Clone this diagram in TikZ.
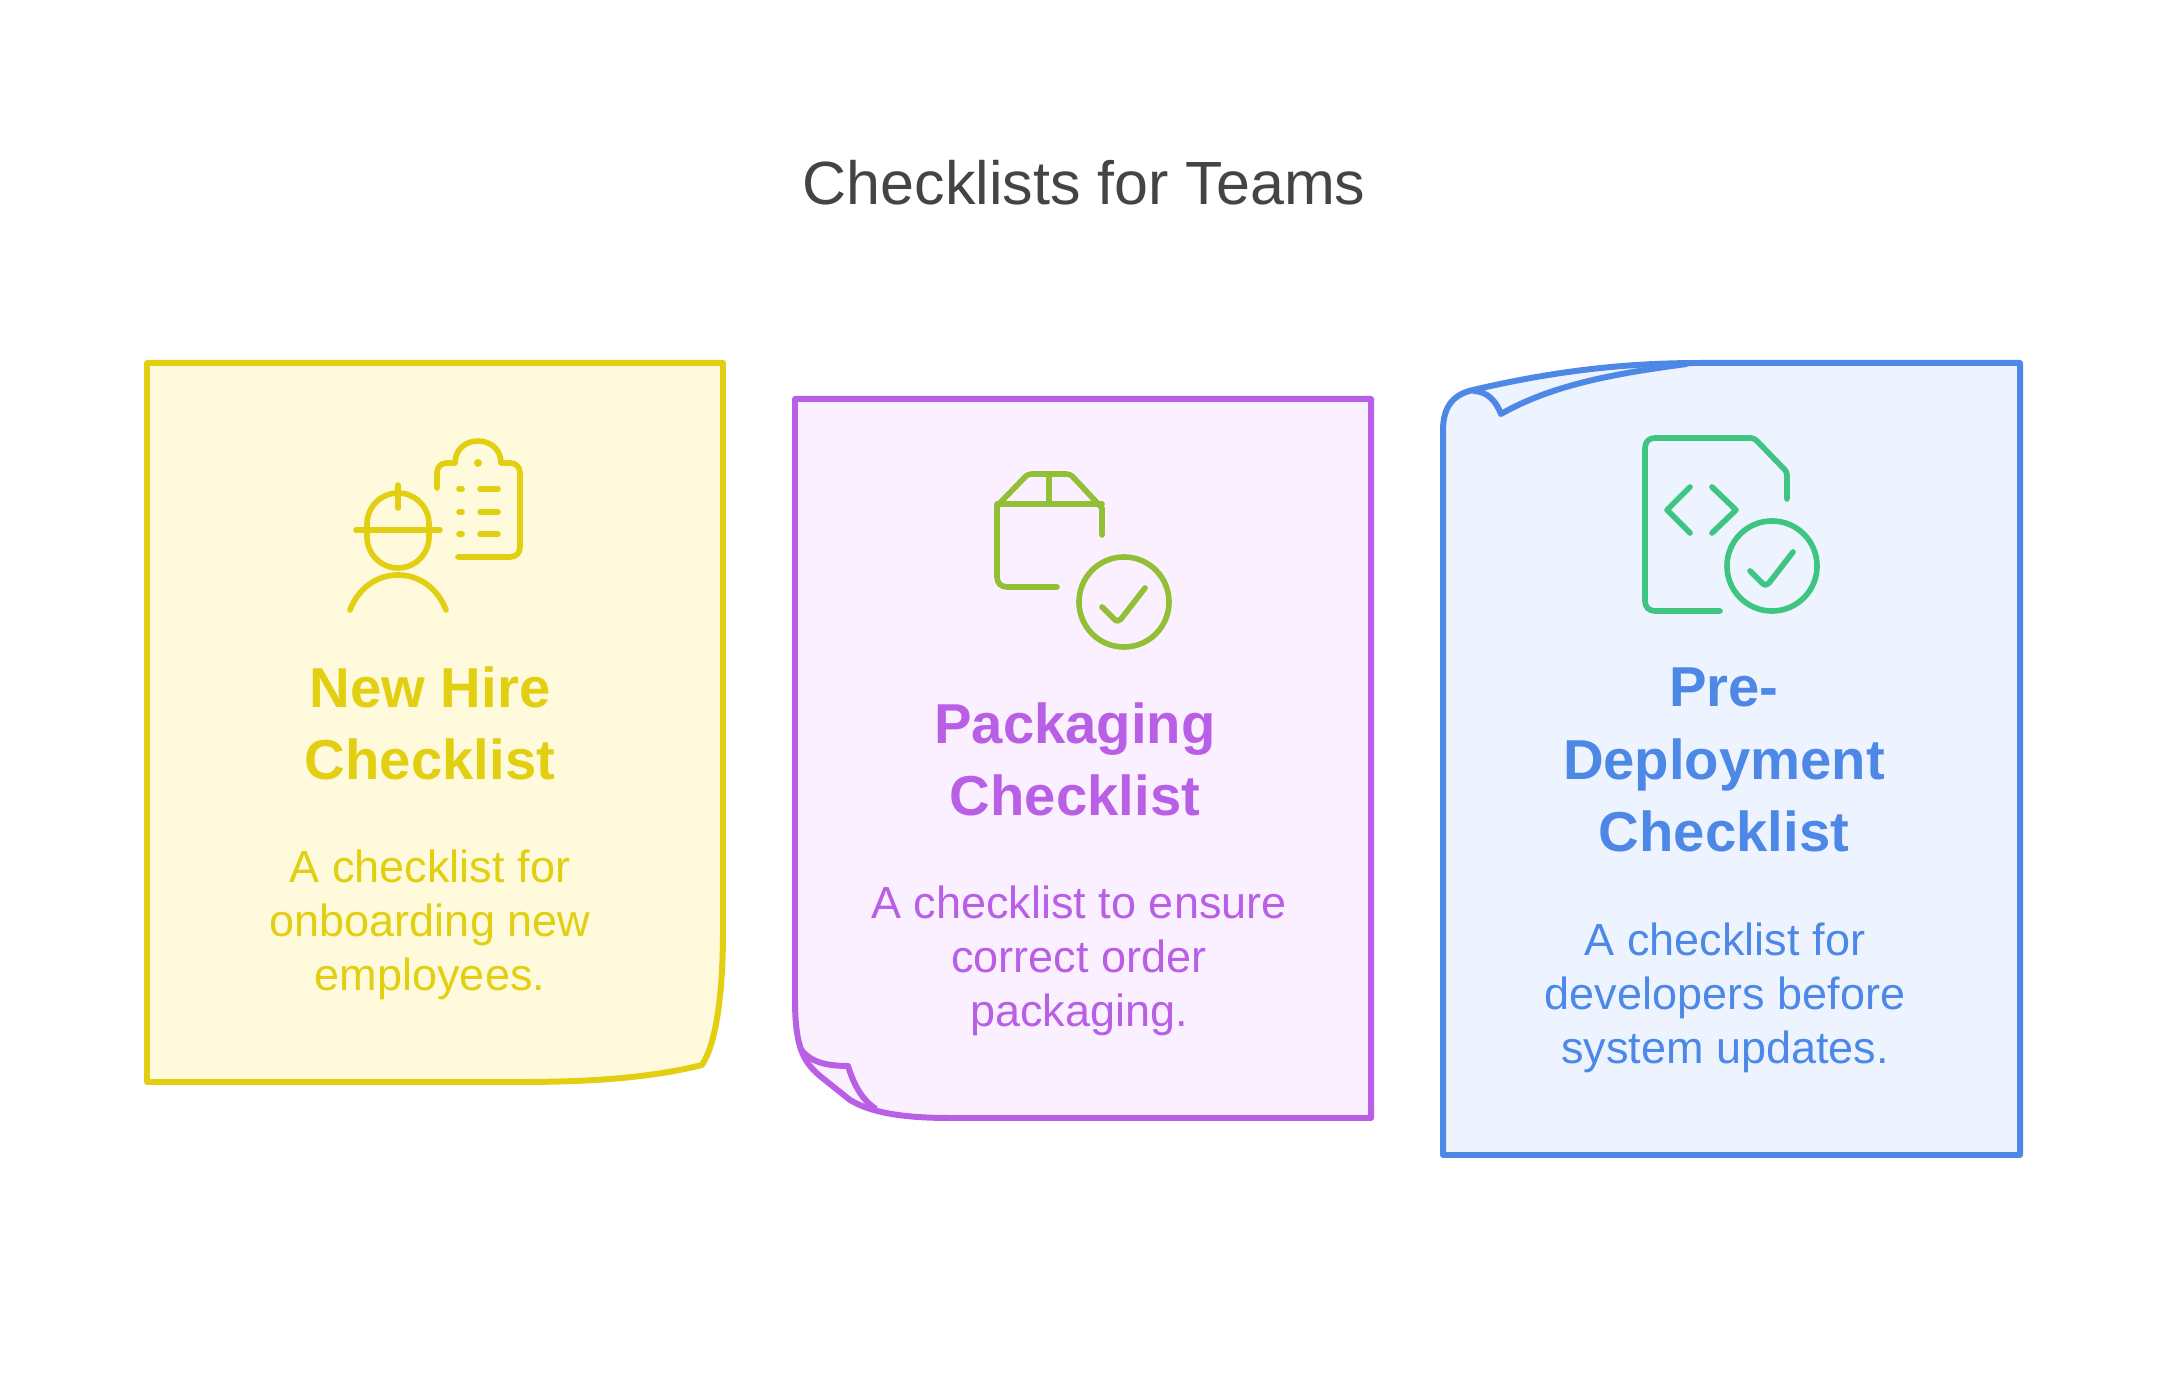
\documentclass[tikz,border=0pt]{standalone}
\usepackage{fontspec}
\setmainfont{Liberation Sans}
\definecolor{ttl}{HTML}{444444}
\definecolor{yel}{HTML}{E2CF11}
\definecolor{yelbg}{HTML}{FFFADB}
\definecolor{pur}{HTML}{B85FE6}
\definecolor{purbg}{HTML}{FBF0FF}
\definecolor{blu}{HTML}{4E88E7}
\definecolor{blubg}{HTML}{EDF4FF}
\definecolor{grn}{HTML}{3EC581}
\definecolor{olv}{HTML}{93BF37}
\tikzset{
  sheet/.style={line width=1.7pt,line join=round},
  icon/.style={line width=1.6pt,line cap=round,line join=round},
  head/.style={align=center,font=\fontsize{16}{20.5}\selectfont\bfseries},
  desc/.style={align=center,font=\fontsize{12.8}{15.45}\selectfont},
}
\begin{document}
\begin{tikzpicture}[x=.01cm,y=-.01cm]
\tikzstyle{every node}=[inner sep=0pt]
\useasboundingbox (0,0) rectangle (2166,1374);
\draw (1084,183) node (title) [text=ttl,font=\fontsize{17.35}{20}\selectfont] {Checklists for Teams};
% yellow card
\draw[sheet,draw=yel,fill=yelbg] (147,363) -- (723,363) -- (723,930) .. controls (723,1000) and (715,1045) .. (702,1065) .. controls (650,1078) and (590,1082) .. (520,1082) -- (147,1082) -- cycle;
\draw (430,723) node (headA) [head,text=yel] {New Hire\\Checklist};
\draw (430,925) node (descA) [desc,text=yel] {A checklist for\\onboarding new\\employees.};
\begin{scope}[icon,draw=yel]
\draw (398,493) .. controls (381,493) and (367,507) .. (367,524) -- (367,537) .. controls (367,554) and (381,568) .. (398,568) .. controls (415,568) and (429,554) .. (429,537) -- (429,524) .. controls (429,507) and (415,493) .. (398,493);
\draw (356,530) -- (440,530);
\draw (398,485) -- (398,508);
\draw (350,610) .. controls (358,589) and (376,575) .. (398,575) .. controls (420,575) and (438,589) .. (446,610);
\draw (437,488) -- (437,473) .. controls (437,467) and (441,463) .. (447,463) -- (455,463) .. controls (455,450) and (465,441) .. (478,441) .. controls (491,441) and (501,450) .. (501,463) -- (510,463) .. controls (516,463) and (520,467) .. (520,473) -- (520,547) .. controls (520,553) and (516,557) .. (510,557) -- (458,557);
\fill[yel] (478,463) circle (4);
\foreach \yy in {489,512,534} {
  \draw (459,\yy) -- (462,\yy);
  \draw (480,\yy) -- (498,\yy);
}
\end{scope}
% purple card
\draw[sheet,draw=pur,fill=purbg] (795,399) -- (1371,399) -- (1371,1118) -- (950,1118) .. controls (900,1118) and (870,1112) .. (850,1100) -- (820,1076) .. controls (805,1063) and (795,1050) .. (795,1000) -- cycle;
\draw[sheet,draw=pur] (800,1048) .. controls (808,1060) and (822,1066) .. (848,1066) .. controls (854,1085) and (862,1100) .. (876,1109);
\draw (1075,759) node (headB) [head,text=pur] {Packaging\\Checklist};
\draw (1079,961) node (descB) [desc,text=pur] {A checklist to ensure\\correct order\\packaging.};
\begin{scope}[icon,draw=olv]
\draw (1102,535) -- (1102,508) -- (1072,476) .. controls (1070,475) and (1069,474) .. (1066,474) -- (1032,474) .. controls (1029,474) and (1028,475) .. (1026,476) -- (997,506) -- (997,577) .. controls (997,583) and (1001,587) .. (1007,587) -- (1057,587);
\draw (997,504) -- (1102,504);
\draw (1049,474) -- (1049,504);
\draw (1124,602) node (okB) [circle,draw,minimum size=.9cm] {};
\draw (1102,607) -- (1114,619) .. controls (1117,622) and (1119,621) .. (1121,619) -- (1145,588);
\end{scope}
% blue card
\draw[sheet,draw=blu,fill=blubg] (1443,1155) -- (1443,430) .. controls (1443,405) and (1455,394) .. (1473,390) .. controls (1550,372) and (1620,363) .. (1700,363) -- (2020,363) -- (2020,1155) -- cycle;
\draw[sheet,draw=blu] (1473,391) .. controls (1487,391) and (1496,401) .. (1501,414) .. controls (1550,386) and (1610,374) .. (1687,364);
\draw (1724,760) node (headC) [head,text=blu] {Pre-\\Deployment\\Checklist};
\draw (1725,998) node (descC) [desc,text=blu] {A checklist for\\developers before\\system updates.};
\begin{scope}[icon,draw=grn]
\draw (1787,499) -- (1787,475) .. controls (1787,473) and (1786,471) .. (1785,470) -- (1757,441) .. controls (1755,439) and (1753,438) .. (1751,438) -- (1655,438) .. controls (1649,438) and (1645,442) .. (1645,448) -- (1645,601) .. controls (1645,607) and (1649,611) .. (1655,611) -- (1720,611);
\draw (1690,487) -- (1667,510) -- (1690,533);
\draw (1712,487) -- (1736,510) -- (1712,533);
\draw (1772,566) node (okC) [circle,draw,minimum size=.9cm] {};
\draw (1750,571) -- (1762,583) .. controls (1765,586) and (1767,585) .. (1769,583) -- (1793,552);
\end{scope}
\end{tikzpicture}
\end{document}
